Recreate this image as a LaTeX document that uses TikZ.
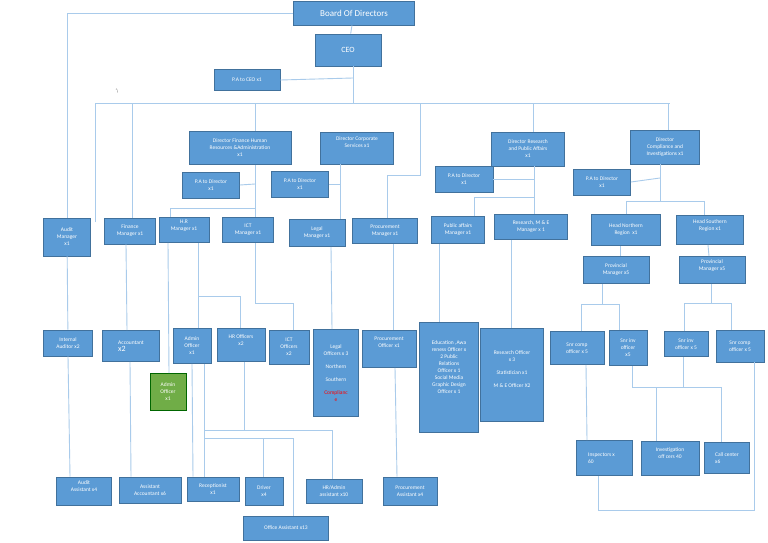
\documentclass[tikz,border=0pt]{standalone}
\usepackage{fontspec}
\setmainfont{Carlito}
\begin{document}
\begin{tikzpicture}[x=1pt,y=-1pt,
 box/.style={draw=boxline,fill=boxfill,line width=0.9pt,text=white,font=\fontsize{5.5}{7}\selectfont,align=center,inner sep=1pt},
 ln/.style={draw=lnc,line width=0.9pt}]
\definecolor{boxfill}{HTML}{5B9BD5}
\definecolor{boxline}{HTML}{41719C}
\definecolor{lnc}{HTML}{A9CBEB}
\definecolor{grn}{HTML}{70AD47}
\useasboundingbox (0,0) rectangle (768,543);
\fill[white] (0,0) rectangle (768,543);
% nodes
\node[box,minimum width=121,minimum height=24,font=\fontsize{9}{10}\selectfont] (board) at (354,13) {Board Of Directors};
\node[box,minimum width=66,minimum height=32,font=\fontsize{8}{10}\selectfont] (ceo) at (348,50) {CEO};
\node[box,minimum width=66,minimum height=21] (pac) at (247,80) {P.A to CEO x1};
\node[font=\tiny] (dots) at (117,91) {`;};
\node[box,minimum width=102,minimum height=33] (dfh) at (240,148) {Director Finance Human\\Resources \&Administration\\x1};
\node[box,minimum width=73,minimum height=32] (dcs) at (357,148) {Director Corporate\\Services x1\\[5pt]};
\node[box,minimum width=73,minimum height=34] (drp) at (528,149) {Director Research\\and Public Affairs\\x1};
\node[box,minimum width=69,minimum height=34] (dci) at (665,147) {Director\\Compliance and\\Investigations x1};
\node[box,minimum width=57,minimum height=26] (pa1) at (211,185) {P.A to Director\\x1};
\node[box,minimum width=57,minimum height=26] (pa2) at (300,184) {P.A to Director\\x1};
\node[box,minimum width=58,minimum height=26] (pa3) at (464,179) {P.A to Director\\x1};
\node[box,minimum width=57,minimum height=26] (pa4) at (602,182) {P.A to Director\\x1};
\node[box,minimum width=47,minimum height=38] (audm) at (67,237) {Audit\\Manager\\x1};
\node[box,minimum width=51,minimum height=26] (finm) at (130,231) {Finance\\Manager x1};
\node[box,minimum width=50,minimum height=25] (hrm) at (184,230) {H.R\\Manager x1\\[3pt]};
\node[box,minimum width=51,minimum height=25] (ictm) at (248,230) {ICT\\Manager x1};
\node[box,minimum width=56,minimum height=27] (legm) at (317,233) {Legal\\Manager x1};
\node[box,minimum width=65,minimum height=25] (prm) at (385,231) {Procurement\\Manager x1};
\node[box,minimum width=53,minimum height=27] (pam) at (458,230) {Public affairs\\Manager x1};
\node[box,minimum width=73,minimum height=25] (rmm) at (531,227) {Research, M \& E\\Manager x 1};
\node[box,minimum width=69,minimum height=31] (hn) at (626,230) {Head Northern\\Region~ x1};
\node[box,minimum width=67,minimum height=29] (hs) at (710,230) {Head Southern\\Region x1\\[2pt]};
\node[box,minimum width=66,minimum height=27] (pmn) at (616,270) {Provincial\\Manager x5};
\node[box,minimum width=66,minimum height=27] (pms) at (712,270) {Provincial\\Manager x5\\[2pt]};
\node[box,minimum width=49,minimum height=26] (ia) at (68,343) {Internal\\Auditor x2};
\node[box,minimum width=57,minimum height=31,align=left] (acc) at (131,346) {Accountant\\{\fontsize{8}{9}\selectfont x2}};
\node[box,minimum width=38,minimum height=35] (ao) at (192,346) {Admin\\Officer\\x1};
\node[box,minimum width=48,minimum height=33] (hro) at (241,345) {HR Officers\\x2\\[3pt]};
\node[box,minimum width=40,minimum height=34] (icto) at (289,347) {ICT\\Officers\\x2};
\node[box,minimum width=45,minimum height=87] (lego) at (336,373) {Legal\\Officers x 3\\[6pt]Northern\\[6pt]Southern\\[6pt]\textcolor{red}{Complianc}\\\textcolor{red}{e}};
\node[box,minimum width=54,minimum height=37] (pro) at (389,349) {Procurement\\Officer x1\\[6pt]};
\node[box,fill=grn,draw=green!40!black,minimum width=36,minimum height=37] (gao) at (168,392) {Admin\\Officer\\x1};
\node[box,minimum width=59,minimum height=110] (edu) at (449,377) {Education ,Awa\\reness Officer x\\2 Public\\Relations\\Officer x 1\\Social Media\\Graphic Design\\Officer x 1\\[12pt]};
\node[box,minimum width=63,minimum height=93] (reo) at (512,375) {Research Officer\\x 3\\[6pt]Statistician x1\\[6pt]M \& E Officer X2\\[4pt]};
\node[box,minimum width=54,minimum height=33] (scn) at (577,348) {Snr comp\\officer x 5};
\node[box,minimum width=38,minimum height=35] (sin) at (628,348) {Snr inv\\officer\\x5};
\node[box,minimum width=44,minimum height=25] (sis) at (686,344) {Snr inv\\officer x 5};
\node[box,minimum width=48,minimum height=32] (scs) at (740,346) {Snr comp\\officer x 5};
\node[box,minimum width=56,minimum height=35,align=left] (insp) at (604,458) {Inspectors x~~~~~\\60};
\node[box,minimum width=58,minimum height=34] (inv) at (670,458) {Investigation\\off cers 40\\[3pt]};
\node[box,minimum width=45,minimum height=31,align=left] (cc) at (727,458) {Call center\\x6};
\node[box,minimum width=55,minimum height=28] (aa) at (84,491) {Audit\\Assistant x4\\[3pt]};
\node[box,minimum width=62,minimum height=26] (aac) at (150,490) {Assistant\\Accountant x6};
\node[box,minimum width=52,minimum height=24] (rec) at (213,489) {Receptionist\\x1};
\node[box,minimum width=38,minimum height=28] (drv) at (264,491) {Driver\\x4};
\node[box,minimum width=56,minimum height=24] (hra) at (334,491) {HR/Admin\\assistant x10};
\node[box,minimum width=54,minimum height=28] (pra) at (410,491) {Procurement\\Assistant x4};
\node[box,minimum width=85,minimum height=24] (oa) at (286,528) {Office Assistant x13};
% connectors
\draw[ln] (board) -- (ceo);
\draw[ln] (board.west) -| (audm.north);
\draw[ln] (ceo.south -| 353,0) -- (353,103);
\draw[ln] (pac.east) -- (353,78);
\draw[ln] (95,222) -- (95,103) -- (670,103);
\draw[ln] (132,103) -- (finm.north -| 132,0);
\draw[ln] (255,103) -- (dfh.north -| 255,0);
\draw[ln] (420,103) -- (420,175) -- (387,175) -- (prm.north -| 387,0);
\draw[ln] (533,103) -- (drp.north -| 533,0);
\draw[ln] (668,103) -- (dci.north -| 668,0);
\draw[ln] (dfh.south -| 255,0) -- (255,208);
\draw[ln] (pa1.east) -- (255,184);
\draw[ln] (hrm.north -| 170,0) -- (170,208) -- (255,208) -- (ictm.north -| 255,0);
\draw[ln] (dcs.south -| 340,0) -- (legm.north -| 340,0);
\draw[ln] (pa2.east) -- (340,184);
\draw[ln] (drp.south -| 534,0) -- (rmm.north -| 534,0);
\draw[ln] (pa3.east) -- (534,179);
\draw[ln] (pam.north -| 474,0) -- (474,197) -- (534,197);
\draw[ln] (dci.south -| 660,0) -- (660,201);
\draw[ln] (pa4.east) -- (660,178);
\draw[ln] (hn.north -| 626,0) -- (626,201) -- (704,201) -- (hs.north -| 704,0);
\draw[ln] (hn.south -| 620,0) -- (pmn.north -| 620,0);
\draw[ln] (hs.south -| 708,0) -- (pms.north -| 709,0);
\draw[ln] (pmn.south -| 602,0) -- (602,304);
\draw[ln] (scn.north -| 581,0) -- (581,304) -- (619,304) -- (sin.north -| 619,0);
\draw[ln] (pms.south -| 711,0) -- (711,303);
\draw[ln] (sis.north -| 684,0) -- (684,303) -- (731,303) -- (scs.north -| 731,0);
\draw[ln] (sin.south -| 632,0) -- (632,387) -- (721,387) -- (cc.north -| 721,0);
\draw[ln] (sis.south -| 683,0) -- (683,387);
\draw[ln] (656,387) -- (inv.north -| 656,0);
\draw[ln] (scn.south -| 586,0) -- (insp.north -| 587,0);
\draw[ln] (insp.south -| 598,0) -- (598,510) -- (754,510) -- (scs.south -| 754,0);
\draw[ln] (pam.south -| 439,0) -- (edu.north -| 439,0);
\draw[ln] (rmm.south -| 511,0) -- (reo.north -| 511,0);
\draw[ln] (audm) -- (ia);
\draw[ln] (ia.south -| 68,0) -- (aa.north -| 70,0);
\draw[ln] (finm.south -| 126,0) -- (acc.north -| 127,0);
\draw[ln] (acc.south -| 130,0) -- (aac.north -| 131,0);
\draw[ln] (hrm.south -| 168,0) -- (gao.north -| 169,0);
\draw[ln] (hrm.south -| 198,0) -- (ao.north -| 198,0);
\draw[ln] (198,296) -- (240,296) -- (hro.north -| 240,0);
\draw[ln] (ictm.south -| 255,0) -- (255,303) -- (293,303) -- (icto.north -| 293,0);
\draw[ln] (legm.south -| 331,0) -- (lego.north -| 332,0);
\draw[ln] (prm.south -| 393,0) -- (pro.north -| 393,0);
\draw[ln] (pro.south -| 395,0) -- (pra.north -| 397,0);
\draw[ln] (ao.south -| 192,0) -- (rec.north -| 193,0);
\draw[ln] (ao.south -| 204,0) -- (rec.north -| 204,0);
\draw[ln] (204,430) -- (332,430) -- (hra.north -| 332,0);
\draw[ln] (hro.south -| 244,0) -- (244,430);
\draw[ln] (204,438) -- (293,438) -- (oa.north -| 293,0);
\draw[ln] (263,438) -- (drv.north -| 263,0);
\end{tikzpicture}
\end{document}
